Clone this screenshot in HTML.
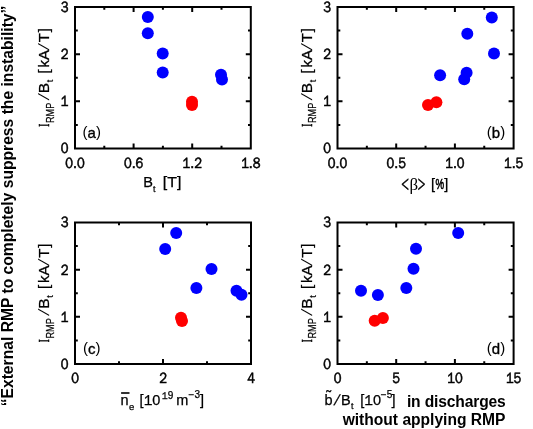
<!DOCTYPE html>
<html><head><meta charset="utf-8"><title>Figure</title>
<style>html,body{margin:0;padding:0;background:#fff;}svg{display:block;}</style></head>
<body><svg width="533" height="429" viewBox="0 0 533 429">
<rect width="533" height="429" fill="#fff"/>
<path d="M133.60 148.50L133.60 143.50 M133.60 7.00L133.60 12.00 M192.20 148.50L192.20 143.50 M192.20 7.00L192.20 12.00 M104.30 148.50L104.30 145.70 M104.30 7.00L104.30 9.80 M162.90 148.50L162.90 145.70 M162.90 7.00L162.90 9.80 M221.50 148.50L221.50 145.70 M221.50 7.00L221.50 9.80 M75.00 101.33L80.00 101.33 M250.80 101.33L245.80 101.33 M75.00 54.17L80.00 54.17 M250.80 54.17L245.80 54.17 M75.00 124.92L77.80 124.92 M250.80 124.92L248.00 124.92 M75.00 77.75L77.80 77.75 M250.80 77.75L248.00 77.75 M75.00 30.58L77.80 30.58 M250.80 30.58L248.00 30.58" stroke="#000" stroke-width="2" fill="none"/>
<rect x="75" y="7" width="175.80" height="141.50" stroke="#000" stroke-width="2.0" fill="none"/>
<text transform="translate(68.40,153.40) scale(0.86,1)" text-anchor="end" font-size="15" font-family="WenQuanYi Zen Hei, Liberation Sans, sans-serif" stroke="#000" stroke-width="0.55">0</text>
<text transform="translate(68.40,106.23) scale(0.86,1)" text-anchor="end" font-size="15" font-family="WenQuanYi Zen Hei, Liberation Sans, sans-serif" stroke="#000" stroke-width="0.55">1</text>
<text transform="translate(68.40,59.07) scale(0.86,1)" text-anchor="end" font-size="15" font-family="WenQuanYi Zen Hei, Liberation Sans, sans-serif" stroke="#000" stroke-width="0.55">2</text>
<text transform="translate(68.40,11.90) scale(0.86,1)" text-anchor="end" font-size="15" font-family="WenQuanYi Zen Hei, Liberation Sans, sans-serif" stroke="#000" stroke-width="0.55">3</text>
<text transform="translate(75.00,167.80) scale(0.86,1)" text-anchor="middle" font-size="15" font-family="WenQuanYi Zen Hei, Liberation Sans, sans-serif" stroke="#000" stroke-width="0.55">0.0</text>
<text transform="translate(133.60,167.80) scale(0.86,1)" text-anchor="middle" font-size="15" font-family="WenQuanYi Zen Hei, Liberation Sans, sans-serif" stroke="#000" stroke-width="0.55">0.6</text>
<text transform="translate(192.20,167.80) scale(0.86,1)" text-anchor="middle" font-size="15" font-family="WenQuanYi Zen Hei, Liberation Sans, sans-serif" stroke="#000" stroke-width="0.55">1.2</text>
<text transform="translate(250.80,167.80) scale(0.86,1)" text-anchor="middle" font-size="15" font-family="WenQuanYi Zen Hei, Liberation Sans, sans-serif" stroke="#000" stroke-width="0.55">1.8</text>
<circle cx="147.8" cy="17.1" r="6.0" fill="#0000ff"/>
<circle cx="147.8" cy="33.2" r="6.0" fill="#0000ff"/>
<circle cx="162.7" cy="53.5" r="6.0" fill="#0000ff"/>
<circle cx="162.7" cy="72.4" r="6.0" fill="#0000ff"/>
<circle cx="221" cy="74.8" r="6.0" fill="#0000ff"/>
<circle cx="222" cy="79.5" r="6.0" fill="#0000ff"/>
<circle cx="192" cy="101.8" r="6.0" fill="#ff0000"/>
<circle cx="192" cy="105.1" r="6.0" fill="#ff0000"/>
<text x="82.6" y="137.2" font-size="15" font-family="Liberation Sans, sans-serif">(<tspan dy="1.2" stroke="#000" stroke-width="0.35">a</tspan><tspan dy="-1.2">)</tspan></text>
<g transform="translate(49.30,126.30) rotate(-90)"><text x="-0.4" y="0" font-size="15" font-family="Liberation Serif, serif" stroke="#000" stroke-width="0.5" textLength="3.0" lengthAdjust="spacingAndGlyphs">I</text><text x="3.3" y="4.3" font-size="10" font-family="Liberation Sans, sans-serif" stroke="#000" stroke-width="0.25" textLength="20.2" lengthAdjust="spacingAndGlyphs">RMP</text><text transform="translate(25.9,0) skewX(-17)" font-size="15" font-family="Liberation Sans, sans-serif">/</text><text x="33.1" y="0" font-size="15.5" font-family="Liberation Sans, sans-serif" stroke="#000" stroke-width="0.25">B</text><text x="44.1" y="4.0" font-size="9" font-family="Liberation Sans, sans-serif" stroke="#000" stroke-width="0.25">t</text><text x="52.75 58.9 66.3" y="0" font-size="15" font-family="Liberation Sans, sans-serif" stroke="#000" stroke-width="0.25">[kA</text><text transform="translate(75.9,0) skewX(-17)" font-size="15" font-family="Liberation Sans, sans-serif">/</text><text x="84.05 94.05" y="0" font-size="15" font-family="Liberation Sans, sans-serif" stroke="#000" stroke-width="0.25">T]</text></g>
<path d="M396.20 148.50L396.20 143.50 M396.20 7.00L396.20 12.00 M454.90 148.50L454.90 143.50 M454.90 7.00L454.90 12.00 M366.85 148.50L366.85 145.70 M366.85 7.00L366.85 9.80 M425.55 148.50L425.55 145.70 M425.55 7.00L425.55 9.80 M484.25 148.50L484.25 145.70 M484.25 7.00L484.25 9.80 M337.50 101.33L342.50 101.33 M513.60 101.33L508.60 101.33 M337.50 54.17L342.50 54.17 M513.60 54.17L508.60 54.17 M337.50 124.92L340.30 124.92 M513.60 124.92L510.80 124.92 M337.50 77.75L340.30 77.75 M513.60 77.75L510.80 77.75 M337.50 30.58L340.30 30.58 M513.60 30.58L510.80 30.58" stroke="#000" stroke-width="2" fill="none"/>
<rect x="337.5" y="7" width="176.10" height="141.50" stroke="#000" stroke-width="2.0" fill="none"/>
<text transform="translate(330.90,153.40) scale(0.86,1)" text-anchor="end" font-size="15" font-family="WenQuanYi Zen Hei, Liberation Sans, sans-serif" stroke="#000" stroke-width="0.55">0</text>
<text transform="translate(330.90,106.23) scale(0.86,1)" text-anchor="end" font-size="15" font-family="WenQuanYi Zen Hei, Liberation Sans, sans-serif" stroke="#000" stroke-width="0.55">1</text>
<text transform="translate(330.90,59.07) scale(0.86,1)" text-anchor="end" font-size="15" font-family="WenQuanYi Zen Hei, Liberation Sans, sans-serif" stroke="#000" stroke-width="0.55">2</text>
<text transform="translate(330.90,11.90) scale(0.86,1)" text-anchor="end" font-size="15" font-family="WenQuanYi Zen Hei, Liberation Sans, sans-serif" stroke="#000" stroke-width="0.55">3</text>
<text transform="translate(337.50,167.80) scale(0.86,1)" text-anchor="middle" font-size="15" font-family="WenQuanYi Zen Hei, Liberation Sans, sans-serif" stroke="#000" stroke-width="0.55">0.0</text>
<text transform="translate(396.20,167.80) scale(0.86,1)" text-anchor="middle" font-size="15" font-family="WenQuanYi Zen Hei, Liberation Sans, sans-serif" stroke="#000" stroke-width="0.55">0.5</text>
<text transform="translate(454.90,167.80) scale(0.86,1)" text-anchor="middle" font-size="15" font-family="WenQuanYi Zen Hei, Liberation Sans, sans-serif" stroke="#000" stroke-width="0.55">1.0</text>
<text transform="translate(513.60,167.80) scale(0.86,1)" text-anchor="middle" font-size="15" font-family="WenQuanYi Zen Hei, Liberation Sans, sans-serif" stroke="#000" stroke-width="0.55">1.5</text>
<circle cx="491.8" cy="17.5" r="6.0" fill="#0000ff"/>
<circle cx="467.3" cy="33.7" r="6.0" fill="#0000ff"/>
<circle cx="494" cy="53.6" r="6.0" fill="#0000ff"/>
<circle cx="466.6" cy="72.8" r="6.0" fill="#0000ff"/>
<circle cx="440.1" cy="75.35" r="6.0" fill="#0000ff"/>
<circle cx="464.2" cy="79.2" r="6.0" fill="#0000ff"/>
<circle cx="428" cy="105.1" r="6.0" fill="#ff0000"/>
<circle cx="436.4" cy="102.2" r="6.0" fill="#ff0000"/>
<text x="486.8" y="137.2" font-size="15" font-family="Liberation Sans, sans-serif">(<tspan dy="1.2" stroke="#000" stroke-width="0.35">b</tspan><tspan dy="-1.2">)</tspan></text>
<g transform="translate(311.80,126.30) rotate(-90)"><text x="-0.4" y="0" font-size="15" font-family="Liberation Serif, serif" stroke="#000" stroke-width="0.5" textLength="3.0" lengthAdjust="spacingAndGlyphs">I</text><text x="3.3" y="4.3" font-size="10" font-family="Liberation Sans, sans-serif" stroke="#000" stroke-width="0.25" textLength="20.2" lengthAdjust="spacingAndGlyphs">RMP</text><text transform="translate(25.9,0) skewX(-17)" font-size="15" font-family="Liberation Sans, sans-serif">/</text><text x="33.1" y="0" font-size="15.5" font-family="Liberation Sans, sans-serif" stroke="#000" stroke-width="0.25">B</text><text x="44.1" y="4.0" font-size="9" font-family="Liberation Sans, sans-serif" stroke="#000" stroke-width="0.25">t</text><text x="52.75 58.9 66.3" y="0" font-size="15" font-family="Liberation Sans, sans-serif" stroke="#000" stroke-width="0.25">[kA</text><text transform="translate(75.9,0) skewX(-17)" font-size="15" font-family="Liberation Sans, sans-serif">/</text><text x="84.05 94.05" y="0" font-size="15" font-family="Liberation Sans, sans-serif" stroke="#000" stroke-width="0.25">T]</text></g>
<path d="M163.00 364.00L163.00 359.00 M163.00 222.50L163.00 227.50 M119.00 364.00L119.00 361.20 M119.00 222.50L119.00 225.30 M207.00 364.00L207.00 361.20 M207.00 222.50L207.00 225.30 M75.00 316.83L80.00 316.83 M251.00 316.83L246.00 316.83 M75.00 269.67L80.00 269.67 M251.00 269.67L246.00 269.67 M75.00 340.42L77.80 340.42 M251.00 340.42L248.20 340.42 M75.00 293.25L77.80 293.25 M251.00 293.25L248.20 293.25 M75.00 246.08L77.80 246.08 M251.00 246.08L248.20 246.08" stroke="#000" stroke-width="2" fill="none"/>
<rect x="75" y="222.5" width="176.00" height="141.50" stroke="#000" stroke-width="2.0" fill="none"/>
<text transform="translate(68.40,368.90) scale(0.86,1)" text-anchor="end" font-size="15" font-family="WenQuanYi Zen Hei, Liberation Sans, sans-serif" stroke="#000" stroke-width="0.55">0</text>
<text transform="translate(68.40,321.73) scale(0.86,1)" text-anchor="end" font-size="15" font-family="WenQuanYi Zen Hei, Liberation Sans, sans-serif" stroke="#000" stroke-width="0.55">1</text>
<text transform="translate(68.40,274.57) scale(0.86,1)" text-anchor="end" font-size="15" font-family="WenQuanYi Zen Hei, Liberation Sans, sans-serif" stroke="#000" stroke-width="0.55">2</text>
<text transform="translate(68.40,227.40) scale(0.86,1)" text-anchor="end" font-size="15" font-family="WenQuanYi Zen Hei, Liberation Sans, sans-serif" stroke="#000" stroke-width="0.55">3</text>
<text transform="translate(75.00,383.30) scale(0.86,1)" text-anchor="middle" font-size="15" font-family="WenQuanYi Zen Hei, Liberation Sans, sans-serif" stroke="#000" stroke-width="0.55">0</text>
<text transform="translate(163.00,383.30) scale(0.86,1)" text-anchor="middle" font-size="15" font-family="WenQuanYi Zen Hei, Liberation Sans, sans-serif" stroke="#000" stroke-width="0.55">2</text>
<text transform="translate(251.00,383.30) scale(0.86,1)" text-anchor="middle" font-size="15" font-family="WenQuanYi Zen Hei, Liberation Sans, sans-serif" stroke="#000" stroke-width="0.55">4</text>
<circle cx="176.2" cy="233" r="6.0" fill="#0000ff"/>
<circle cx="165.2" cy="248.9" r="6.0" fill="#0000ff"/>
<circle cx="211.5" cy="269" r="6.0" fill="#0000ff"/>
<circle cx="196.4" cy="288" r="6.0" fill="#0000ff"/>
<circle cx="236.5" cy="290.8" r="6.0" fill="#0000ff"/>
<circle cx="241.5" cy="294.8" r="6.0" fill="#0000ff"/>
<circle cx="181" cy="317.8" r="6.0" fill="#ff0000"/>
<circle cx="182" cy="321" r="6.0" fill="#ff0000"/>
<text x="83" y="352.8" font-size="15" font-family="Liberation Sans, sans-serif">(<tspan dy="1.2" stroke="#000" stroke-width="0.35">c</tspan><tspan dy="-1.2">)</tspan></text>
<g transform="translate(49.30,341.80) rotate(-90)"><text x="-0.4" y="0" font-size="15" font-family="Liberation Serif, serif" stroke="#000" stroke-width="0.5" textLength="3.0" lengthAdjust="spacingAndGlyphs">I</text><text x="3.3" y="4.3" font-size="10" font-family="Liberation Sans, sans-serif" stroke="#000" stroke-width="0.25" textLength="20.2" lengthAdjust="spacingAndGlyphs">RMP</text><text transform="translate(25.9,0) skewX(-17)" font-size="15" font-family="Liberation Sans, sans-serif">/</text><text x="33.1" y="0" font-size="15.5" font-family="Liberation Sans, sans-serif" stroke="#000" stroke-width="0.25">B</text><text x="44.1" y="4.0" font-size="9" font-family="Liberation Sans, sans-serif" stroke="#000" stroke-width="0.25">t</text><text x="52.75 58.9 66.3" y="0" font-size="15" font-family="Liberation Sans, sans-serif" stroke="#000" stroke-width="0.25">[kA</text><text transform="translate(75.9,0) skewX(-17)" font-size="15" font-family="Liberation Sans, sans-serif">/</text><text x="84.05 94.05" y="0" font-size="15" font-family="Liberation Sans, sans-serif" stroke="#000" stroke-width="0.25">T]</text></g>
<path d="M396.20 364.00L396.20 359.00 M396.20 222.50L396.20 227.50 M454.90 364.00L454.90 359.00 M454.90 222.50L454.90 227.50 M366.85 364.00L366.85 361.20 M366.85 222.50L366.85 225.30 M425.55 364.00L425.55 361.20 M425.55 222.50L425.55 225.30 M484.25 364.00L484.25 361.20 M484.25 222.50L484.25 225.30 M337.50 316.83L342.50 316.83 M513.60 316.83L508.60 316.83 M337.50 269.67L342.50 269.67 M513.60 269.67L508.60 269.67 M337.50 340.42L340.30 340.42 M513.60 340.42L510.80 340.42 M337.50 293.25L340.30 293.25 M513.60 293.25L510.80 293.25 M337.50 246.08L340.30 246.08 M513.60 246.08L510.80 246.08" stroke="#000" stroke-width="2" fill="none"/>
<rect x="337.5" y="222.5" width="176.10" height="141.50" stroke="#000" stroke-width="2.0" fill="none"/>
<text transform="translate(330.90,368.90) scale(0.86,1)" text-anchor="end" font-size="15" font-family="WenQuanYi Zen Hei, Liberation Sans, sans-serif" stroke="#000" stroke-width="0.55">0</text>
<text transform="translate(330.90,321.73) scale(0.86,1)" text-anchor="end" font-size="15" font-family="WenQuanYi Zen Hei, Liberation Sans, sans-serif" stroke="#000" stroke-width="0.55">1</text>
<text transform="translate(330.90,274.57) scale(0.86,1)" text-anchor="end" font-size="15" font-family="WenQuanYi Zen Hei, Liberation Sans, sans-serif" stroke="#000" stroke-width="0.55">2</text>
<text transform="translate(330.90,227.40) scale(0.86,1)" text-anchor="end" font-size="15" font-family="WenQuanYi Zen Hei, Liberation Sans, sans-serif" stroke="#000" stroke-width="0.55">3</text>
<text transform="translate(337.50,383.30) scale(0.86,1)" text-anchor="middle" font-size="15" font-family="WenQuanYi Zen Hei, Liberation Sans, sans-serif" stroke="#000" stroke-width="0.55">0</text>
<text transform="translate(396.20,383.30) scale(0.86,1)" text-anchor="middle" font-size="15" font-family="WenQuanYi Zen Hei, Liberation Sans, sans-serif" stroke="#000" stroke-width="0.55">5</text>
<text transform="translate(454.90,383.30) scale(0.86,1)" text-anchor="middle" font-size="15" font-family="WenQuanYi Zen Hei, Liberation Sans, sans-serif" stroke="#000" stroke-width="0.55">10</text>
<text transform="translate(513.60,383.30) scale(0.86,1)" text-anchor="middle" font-size="15" font-family="WenQuanYi Zen Hei, Liberation Sans, sans-serif" stroke="#000" stroke-width="0.55">15</text>
<circle cx="458.2" cy="233" r="6.0" fill="#0000ff"/>
<circle cx="416" cy="248.8" r="6.0" fill="#0000ff"/>
<circle cx="413.5" cy="268.8" r="6.0" fill="#0000ff"/>
<circle cx="406.3" cy="288" r="6.0" fill="#0000ff"/>
<circle cx="361" cy="290.8" r="6.0" fill="#0000ff"/>
<circle cx="377.9" cy="294.9" r="6.0" fill="#0000ff"/>
<circle cx="374.7" cy="320.7" r="6.0" fill="#ff0000"/>
<circle cx="382.9" cy="317.9" r="6.0" fill="#ff0000"/>
<text x="486.8" y="352.8" font-size="15" font-family="Liberation Sans, sans-serif">(<tspan dy="1.2" stroke="#000" stroke-width="0.35">d</tspan><tspan dy="-1.2">)</tspan></text>
<g transform="translate(311.80,341.80) rotate(-90)"><text x="-0.4" y="0" font-size="15" font-family="Liberation Serif, serif" stroke="#000" stroke-width="0.5" textLength="3.0" lengthAdjust="spacingAndGlyphs">I</text><text x="3.3" y="4.3" font-size="10" font-family="Liberation Sans, sans-serif" stroke="#000" stroke-width="0.25" textLength="20.2" lengthAdjust="spacingAndGlyphs">RMP</text><text transform="translate(25.9,0) skewX(-17)" font-size="15" font-family="Liberation Sans, sans-serif">/</text><text x="33.1" y="0" font-size="15.5" font-family="Liberation Sans, sans-serif" stroke="#000" stroke-width="0.25">B</text><text x="44.1" y="4.0" font-size="9" font-family="Liberation Sans, sans-serif" stroke="#000" stroke-width="0.25">t</text><text x="52.75 58.9 66.3" y="0" font-size="15" font-family="Liberation Sans, sans-serif" stroke="#000" stroke-width="0.25">[kA</text><text transform="translate(75.9,0) skewX(-17)" font-size="15" font-family="Liberation Sans, sans-serif">/</text><text x="84.05 94.05" y="0" font-size="15" font-family="Liberation Sans, sans-serif" stroke="#000" stroke-width="0.25">T]</text></g>
<text x="143.3" y="187.1" font-size="14.5" font-family="Liberation Sans, sans-serif" stroke="#000" stroke-width="0.25">B</text>
<text x="153" y="192.4" font-size="9" font-family="Liberation Sans, sans-serif" stroke="#000" stroke-width="0.25">t</text>
<text x="162.8" y="187.1" font-size="14.5" font-family="Liberation Sans, sans-serif" stroke="#000" stroke-width="0.25" textLength="18.6" lengthAdjust="spacingAndGlyphs">[T]</text>
<text transform="translate(401.2,192.2) scale(0.9,1.6)" font-size="15" font-family="Liberation Serif, serif" stroke="#000" stroke-width="0.35">&lt;</text>
<text x="409.4" y="189.6" font-size="17" font-family="Liberation Serif, serif">β</text>
<text transform="translate(417.8,192.2) scale(0.9,1.6)" font-size="15" font-family="Liberation Serif, serif" stroke="#000" stroke-width="0.35">&gt;</text>
<text x="431" y="189.1" font-size="14.5" font-family="Liberation Sans, sans-serif" stroke="#000" stroke-width="0.25">[</text>
<text x="435.6" y="189.1" font-size="14.5" font-family="Liberation Sans, sans-serif" stroke="#000" stroke-width="0.6" textLength="8.6" lengthAdjust="spacingAndGlyphs">%</text>
<text x="444.3" y="189.1" font-size="14.5" font-family="Liberation Sans, sans-serif" stroke="#000" stroke-width="0.25">]</text>
<text x="120.6" y="405.2" font-size="14.5" font-family="Liberation Sans, sans-serif" stroke="#000" stroke-width="0.25">n</text>
<rect x="121.1" y="392.2" width="8.4" height="1.6" fill="#000"/>
<text x="128.9" y="410" font-size="9.5" font-family="Liberation Sans, sans-serif" stroke="#000" stroke-width="0.25">e</text>
<text x="139.6" y="405.2" font-size="14.5" font-family="Liberation Sans, sans-serif" stroke="#000" stroke-width="0.25">[<tspan font-family="WenQuanYi Zen Hei, Liberation Sans, sans-serif">1</tspan>0</text>
<text x="161.8" y="398.6" font-size="10" font-family="Liberation Sans, sans-serif" stroke="#000" stroke-width="0.25"><tspan font-family="WenQuanYi Zen Hei, Liberation Sans, sans-serif">1</tspan>9</text>
<text x="176.2" y="405.2" font-size="14.5" font-family="Liberation Sans, sans-serif" stroke="#000" stroke-width="0.25">m</text>
<text x="188.6" y="398.1" font-size="10" font-family="Liberation Sans, sans-serif" stroke="#000" stroke-width="0.25">−3</text>
<text x="200" y="405.2" font-size="14.5" font-family="Liberation Sans, sans-serif" stroke="#000" stroke-width="0.25">]</text>
<text x="324.5" y="405.2" font-size="14.5" font-family="Liberation Sans, sans-serif" stroke="#000" stroke-width="0.25">b</text>
<text x="326.2" y="401.2" font-size="15" font-family="Liberation Sans, sans-serif" stroke="#000" stroke-width="0.25">˜</text>
<text transform="translate(333.4,405.2) skewX(-17)" font-size="14.5" font-family="Liberation Sans, sans-serif" stroke="#000" stroke-width="0.25">/</text>
<text x="341" y="405.2" font-size="14.5" font-family="Liberation Sans, sans-serif" stroke="#000" stroke-width="0.25">B</text>
<text x="351" y="409.4" font-size="9" font-family="Liberation Sans, sans-serif" stroke="#000" stroke-width="0.25">t</text>
<text x="360.3" y="405.2" font-size="14.5" font-family="Liberation Sans, sans-serif" stroke="#000" stroke-width="0.25">[<tspan font-family="WenQuanYi Zen Hei, Liberation Sans, sans-serif">1</tspan>0</text>
<text x="380.8" y="398.1" font-size="10" font-family="Liberation Sans, sans-serif" stroke="#000" stroke-width="0.25">−5</text>
<text x="391.4" y="405.2" font-size="14.5" font-family="Liberation Sans, sans-serif" stroke="#000" stroke-width="0.25">]</text>
<text x="406.9" y="407" font-size="15.6" font-family="Liberation Sans, sans-serif" font-weight="bold" textLength="98.9" lengthAdjust="spacing">in discharges</text>
<text x="505.5" y="424.5" text-anchor="end" font-size="15.6" font-family="Liberation Sans, sans-serif" font-weight="bold">without applying RMP</text>
<g transform="translate(12.8,406.3) rotate(-90)"><text x="0" y="0" font-size="15.6" font-family="Liberation Sans, sans-serif" font-weight="bold" textLength="400.7" lengthAdjust="spacing">“External RMP to completely suppress the instability”</text></g>
</svg></body></html>
